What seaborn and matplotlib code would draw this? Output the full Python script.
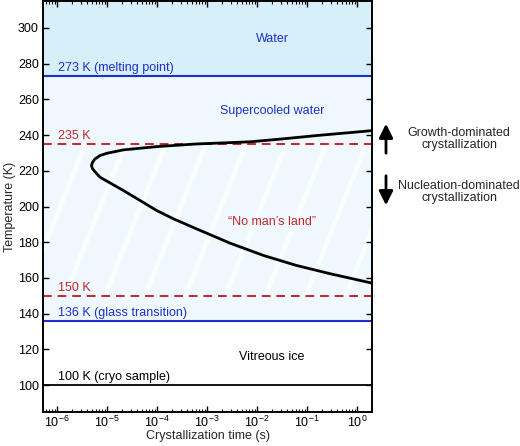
import numpy as np
import pandas as pd
import seaborn as sns
import matplotlib
matplotlib.use("Agg")
import matplotlib.pyplot as plt
import matplotlib.transforms as mtransforms
from matplotlib.ticker import LogLocator, NullFormatter, LogFormatterSciNotation

# --- data ---
# crystallization-time curve (log10 seconds, kelvin), upper branch -> nose -> lower branch
curve_log_t = [0.32, -0.81, -1.5, -2.14, -3.21, -4.01, -4.67, -5.0, -5.14, -5.24,
               -5.29, -5.31, -5.29, -5.24, -5.14, -4.67, -4.34, -4.01, -3.67,
               -3.21, -2.54, -1.87, -1.21, -0.54, 0.32]
curve_temp = [242.5, 239.7, 237.8, 236.2, 235.0, 233.5, 231.7, 229.8, 228.5, 226.6,
              224.7, 222.9, 221.2, 219.4, 216.4, 208.9, 203.4, 197.8, 193.1,
              187.5, 179.5, 172.6, 167.0, 162.4, 157.0]

x_tick_exponents = [-6, -5, -4, -3, -2, -1, 0]

melting_T = 273
homog_T = 235
lower_T = 150
glass_T = 136
cryo_T = 100

region_names = ["Water", "Supercooled water", "\u201cNo man\u2019s land\u201d", "Vitreous ice"]
region_temps = [294, 253.5, 191.5, 115.5]

line_labels = ["273 K (melting point)", "235 K", "150 K",
               "136 K (glass transition)", "100 K (cryo sample)"]
line_label_temps = [274.0, 236.2, 151.2, 137.2, 101.2]

df = pd.DataFrame({"time": 10.0 ** np.array(curve_log_t), "temp": curve_temp})

sns.set_theme(style="white")
plt.rcParams["font.family"] = ["Liberation Sans", "DejaVu Sans"]

blue = "#1f2fcc"
red = "#c3262d"

fig = plt.figure(figsize=(5.2, 4.46), dpi=100)
ax = fig.add_axes([43 / 520, 1 - 412 / 446, (372 - 43) / 520, (412 - 1) / 446])

xmin, xmax = 10 ** -6.28, 10 ** 0.3
ymin, ymax = 85, 315

# background regions
ax.axhspan(melting_T, ymax, color="#d7eff9", lw=0, zorder=0)
ax.axhspan(glass_T, melting_T, color="#eef8fd", lw=0, zorder=0)

# faint white diagonal stripes across the "no man's land" band
band = mtransforms.blended_transform_factory(ax.transAxes, ax.transData)
for x0 in np.arange(-0.3, 1.1, 0.122):
    ax.plot([x0, x0 + 0.185], [lower_T, homog_T], transform=band,
            color="white", lw=3.5, alpha=0.75, zorder=0.5, solid_capstyle="butt")

# reference lines
ax.axhline(melting_T, color=blue, lw=1.5, zorder=2)
ax.axhline(glass_T, color=blue, lw=1.5, zorder=2)
ax.axhline(cryo_T, color="black", lw=1.3, zorder=2)
ax.axhline(homog_T, color=red, lw=1.4, ls=(0, (4.5, 3)), zorder=2)
ax.axhline(lower_T, color=red, lw=1.4, ls=(0, (4.5, 3)), zorder=2)

sns.lineplot(data=df, x="time", y="temp", sort=False, estimator=None,
             color="black", lw=2, ax=ax, zorder=3)

ax.set_xscale("log")
ax.set_xlim(xmin, xmax)
ax.set_ylim(ymin, ymax)
ax.set_yticks(range(100, 301, 20))
ax.set_xticks([10.0 ** e for e in x_tick_exponents])
ax.xaxis.set_major_formatter(LogFormatterSciNotation())
ax.xaxis.set_minor_locator(LogLocator(base=10, subs=np.arange(2, 10), numticks=20))
ax.xaxis.set_minor_formatter(NullFormatter())
ax.set_xlim(xmin, xmax)

ax.tick_params(which="both", direction="in", top=True, right=True,
               bottom=True, left=True, labelsize=9, colors="black")
ax.tick_params(which="major", length=4, width=1, pad=3)
ax.tick_params(axis="x", which="major", pad=2)
ax.tick_params(which="minor", length=2, width=0.8)
for s in ax.spines.values():
    s.set_color("black")
    s.set_linewidth(1.4)

ax.set_xlabel("Crystallization time (s)", fontsize=9, labelpad=0)
ax.set_ylabel("Temperature (K)", fontsize=9, labelpad=1)

# labels on the lines
line_colors = [blue, red, red, blue, "black"]
for lab, t, c in zip(line_labels, line_label_temps, line_colors):
    ax.text(10 ** -5.98, t, lab, color=c, fontsize=9, va="bottom", ha="left")

region_colors = [blue, blue, red, "black"]
for name, t, c in zip(region_names, region_temps, region_colors):
    ax.text(10 ** -1.7, t, name, color=c, fontsize=9, va="center", ha="center")

# arrows and notes outside the axes
arrow_kw = dict(arrowstyle="-|>,head_length=0.7,head_width=0.35", color="black", lw=2)
ax.annotate("", xy=(386 / 520, 1 - 121 / 446), xycoords="figure fraction",
            xytext=(386 / 520, 1 - 156 / 446), textcoords="figure fraction",
            arrowprops=arrow_kw, annotation_clip=False)
ax.annotate("", xy=(386 / 520, 1 - 208 / 446), xycoords="figure fraction",
            xytext=(386 / 520, 1 - 173 / 446), textcoords="figure fraction",
            arrowprops=arrow_kw, annotation_clip=False)
fig.text(459 / 520, 1 - 139 / 446, "Growth-dominated\ncrystallization",
         ha="center", va="center", fontsize=9, linespacing=1.05)
fig.text(459 / 520, 1 - 192 / 446, "Nucleation-dominated\ncrystallization",
         ha="center", va="center", fontsize=9, linespacing=1.05)

fig.savefig("out.png", dpi=100)
